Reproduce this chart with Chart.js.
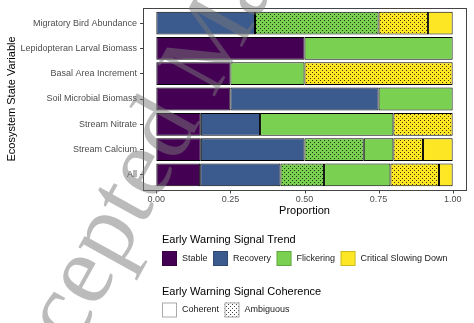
<!DOCTYPE html>
<html>
<head>
<meta charset="utf-8">
<script src="https://cdn.jsdelivr.net/npm/chart.js@4.4.1/dist/chart.umd.min.js"></script>
<style>
  html, body { margin: 0; padding: 0; background: #fff; }
  #wrap { width: 474px; height: 323px; position: relative; }
</style>
</head>
<body>
<div id="wrap"><canvas id="ewsChart" width="474" height="323"></canvas></div>
<script>
// --- Data ------------------------------------------------------------------
var categories = [
  'Migratory Bird Abundance',
  'Lepidopteran Larval Biomass',
  'Basal Area Increment',
  'Soil Microbial Biomass',
  'Stream Nitrate',
  'Stream Calcium',
  'All'
];

// proportion of signals per trend / coherence class (null = none)
var stable          = [null,  0.5,  0.25, 0.25, 0.15, 0.15, 0.148];
var recovery        = [0.333, null, null, 0.5,  0.2,  0.35, 0.271];
var flickerAmbig    = [0.417, null, null, null, null, 0.2,  0.147];
var flickerCoherent = [null,  0.5,  0.25, 0.25, 0.45, 0.1,  0.224];
var csdAmbig        = [0.167, null, 0.5,  null, 0.2,  0.1,  0.164];
var csdCoherent     = [0.083, null, null, null, null, 0.1,  0.046];

var xTicks = [0, 0.25, 0.5, 0.75, 1];

var trendLabels = ['Stable', 'Recovery', 'Flickering', 'Critical Slowing Down'];
var coherenceLabels = ['Coherent', 'Ambiguous'];

// --- Styling ---------------------------------------------------------------
var COL = {
  stable:   '#440154',
  recovery: '#3B5B8F',
  flicker:  '#7AD151',
  csd:      '#FDE725'
};
var trendColors = [COL.stable, COL.recovery, COL.flicker, COL.csd];
var SANS = '"Liberation Sans", Arial, sans-serif';

var canvas = document.getElementById('ewsChart');
var ctx = canvas.getContext('2d');

// stippled fill used for "ambiguous" segments
function dotted(base){
  var tile = document.createElement('canvas');
  tile.width = 4; tile.height = 4;
  var t = tile.getContext('2d');
  t.fillStyle = base;
  t.fillRect(0, 0, 4, 4);
  t.fillStyle = 'rgba(0,0,0,0.75)';
  t.fillRect(0, 0, 1, 1);
  t.fillRect(2, 2, 1, 1);
  return ctx.createPattern(tile, 'repeat');
}

function ds(label, data, fill){
  return {
    label: label,
    data: data,
    backgroundColor: fill,
    borderColor: '#000',
    borderWidth: 1,
    borderSkipped: false,
    barPercentage: 0.9,
    categoryPercentage: 1
  };
}

// --- Plugins ---------------------------------------------------------------
// panel border (ggplot-style discrete expansion) + x tick marks
var panelPlugin = {
  id: 'panel',
  afterDatasetsDraw: function(chart){
    var a = chart.chartArea;
    var pitch = (a.bottom - a.top) / categories.length;
    var top = a.top - 0.1 * pitch;
    var bottom = a.bottom + 0.1 * pitch;
    var c = chart.ctx;
    c.save();
    c.strokeStyle = '#444';
    c.lineWidth = 1;
    c.strokeRect(Math.round(a.left) + 0.5, Math.round(top) + 0.5,
                 Math.round(a.right - a.left), Math.round(bottom - top));
    var xs = chart.scales.x;
    c.beginPath();
    xTicks.forEach(function(v){
      var px = Math.round(xs.getPixelForValue(v)) + 0.5;
      c.moveTo(px, Math.round(bottom) + 0.5);
      c.lineTo(px, Math.round(bottom) + 3.5);
    });
    c.stroke();
    c.restore();
  }
};

function drawLegend(c, title, x, y, labels, fills, strokes){
  c.font = '11px ' + SANS;
  c.fillStyle = '#000';
  c.textBaseline = 'middle';
  c.textAlign = 'left';
  c.fillText(title, x, y);
  var kx = x, ky = y + 11;
  c.font = '9px ' + SANS;
  labels.forEach(function(lab, i){
    c.fillStyle = fills[i];
    c.fillRect(kx, ky, 15, 15);
    c.strokeStyle = strokes[i];
    c.lineWidth = 1;
    c.strokeRect(kx + 0.5, ky + 0.5, 14, 14);
    c.fillStyle = '#1a1a1a';
    c.fillText(lab, kx + 20, ky + 7.5);
    kx += 20 + c.measureText(lab).width + 5.5;
  });
}

var legendPlugin = {
  id: 'ewsLegend',
  afterDraw: function(chart){
    var c = chart.ctx;
    c.save();
    drawLegend(c, 'Early Warning Signal Trend', 162, 240, trendLabels,
      trendColors, ['rgba(0,0,0,0.2)', 'rgba(0,0,0,0.2)', 'rgba(0,0,0,0.2)', 'rgba(0,0,0,0.2)']);
    drawLegend(c, 'Early Warning Signal Coherence', 162, 291.5, coherenceLabels,
      ['#fff', dotted('#fff')], ['#aaa', '#aaa']);

    // diagonal manuscript watermark
    c.translate(18, 451);
    c.rotate(-61 * Math.PI / 180);
    c.font = '100px "Liberation Serif", "Times New Roman", serif';
    c.fillStyle = 'rgba(120,120,120,0.5)';
    c.textBaseline = 'alphabetic';
    c.fillText('Accepted Manuscript', 0, 0);
    c.restore();
  }
};

// --- Chart -----------------------------------------------------------------
new Chart(ctx, {
  type: 'bar',
  data: {
    labels: categories,
    datasets: [
      ds('Stable', stable, COL.stable),
      ds('Recovery', recovery, COL.recovery),
      ds('Flickering (ambiguous)', flickerAmbig, dotted(COL.flicker)),
      ds('Flickering', flickerCoherent, COL.flicker),
      ds('Critical Slowing Down (ambiguous)', csdAmbig, dotted(COL.csd)),
      ds('Critical Slowing Down', csdCoherent, COL.csd)
    ]
  },
  options: {
    indexAxis: 'y',
    responsive: false,
    animation: false,
    devicePixelRatio: 1,
    layout: { padding: { top: 10.5, right: 8, bottom: 105.5, left: 0 } },
    plugins: {
      legend: { display: false },
      tooltip: { enabled: false }
    },
    scales: {
      x: {
        stacked: true,
        min: -0.045,
        max: 1.045,
        afterBuildTicks: function(axis){
          axis.ticks = xTicks.map(function(v){ return { value: v }; });
        },
        afterFit: function(axis){ axis.height = 30; },
        grid: { display: false, drawTicks: false },
        border: { display: false },
        ticks: {
          padding: 7,
          color: '#4d4d4d',
          font: { family: SANS, size: 9 },
          maxRotation: 0,
          callback: function(v){ return Number(v).toFixed(2); }
        },
        title: {
          display: true,
          text: 'Proportion',
          color: '#000',
          font: { family: SANS, size: 11 },
          padding: { top: 0, bottom: 0 }
        }
      },
      y: {
        stacked: true,
        afterFit: function(axis){ axis.width = 143; },
        grid: { display: true, drawOnChartArea: false, drawTicks: true, tickLength: 3, color: '#444', offset: false },
        border: { display: false },
        ticks: {
          autoSkip: false,
          padding: 3,
          color: '#4d4d4d',
          font: { family: SANS, size: 9 }
        },
        title: {
          display: true,
          text: 'Ecosystem State Variable',
          color: '#000',
          font: { family: SANS, size: 11 },
          padding: { top: 5, bottom: 0 }
        }
      }
    }
  },
  plugins: [panelPlugin, legendPlugin]
});
</script>
</body>
</html>
